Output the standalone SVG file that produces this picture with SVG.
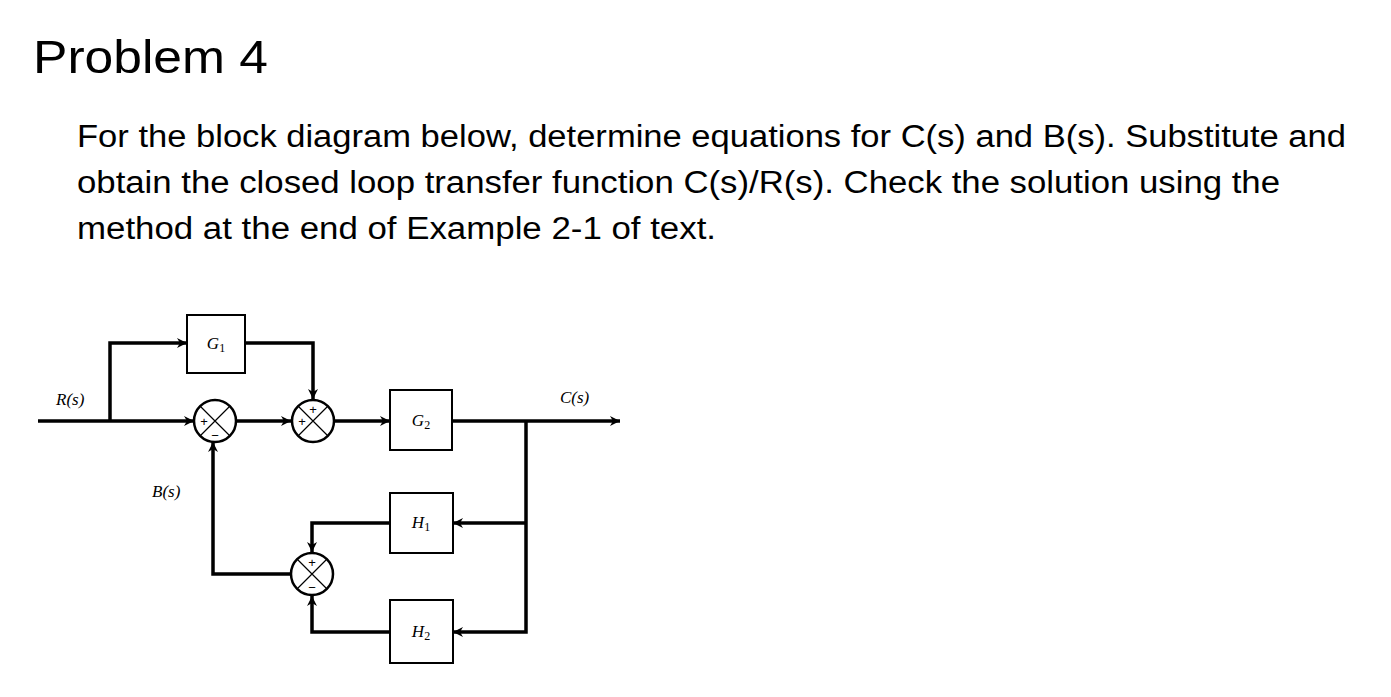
<svg xmlns="http://www.w3.org/2000/svg" width="1391" height="697" viewBox="0 0 1391 697">
<defs>
<marker id="ar" viewBox="0 0 10 10" refX="10" refY="5" markerWidth="20" markerHeight="10" markerUnits="userSpaceOnUse" orient="auto"><path d="M0,0 L10,5 L0,10 L3,5 z" fill="#000"/></marker>
</defs>
<style>
.t{font-family:"Liberation Sans",Arial,sans-serif;fill:#000}
.b{fill:#fff;stroke:#000;stroke-width:2}
.w{fill:none;stroke:#000;stroke-width:3.5}
.s{fill:#fff;stroke:#000;stroke-width:2.5}
.x{stroke:#000;stroke-width:1.2}
.m{font-family:"Liberation Serif",serif;font-style:italic;font-size:17px}
.p{font-family:"Liberation Sans",sans-serif;font-size:13px}
</style>
<rect width="1391" height="697" fill="#fff"/>
<text class="t" x="33" y="73" font-size="46" textLength="235" lengthAdjust="spacingAndGlyphs">Problem 4</text>
<text class="t" x="77" y="147" font-size="31" textLength="1269" lengthAdjust="spacingAndGlyphs">For the block diagram below, determine equations for C(s) and B(s).  Substitute and</text>
<text class="t" x="77" y="193" font-size="31" textLength="1203" lengthAdjust="spacingAndGlyphs">obtain the closed loop transfer function C(s)/R(s).  Check the solution using the</text>
<text class="t" x="77" y="239" font-size="31" textLength="639" lengthAdjust="spacingAndGlyphs">method at the end of Example 2-1 of text.</text>
<g id="connectors">
<path class="w" d="M38,421 H194" marker-end="url(#ar)"/>
<path class="w" d="M110,421 V343 H187" marker-end="url(#ar)"/>
<path class="w" d="M245,343 H313 V399" marker-end="url(#ar)"/>
<path class="w" d="M236,421 H291" marker-end="url(#ar)"/>
<path class="w" d="M335,421 H390" marker-end="url(#ar)"/>
<path class="w" d="M452,421 H620" marker-end="url(#ar)"/>
<path class="w" d="M526,421 V632 H453" marker-end="url(#ar)"/>
<path class="w" d="M526,523 H453" marker-end="url(#ar)"/>
<path class="w" d="M390,523 H312 V552" marker-end="url(#ar)"/>
<path class="w" d="M390,632 H312 V596" marker-end="url(#ar)"/>
<path class="w" d="M290,574 H213 V442" marker-end="url(#ar)"/>
</g>
<g id="G1"><rect class="b" x="187" y="315" width="58" height="58"/><text class="m" x="216" y="349" text-anchor="middle">G<tspan font-size="12" font-style="normal" dy="3">1</tspan></text></g>
<g id="G2"><rect class="b" x="390" y="390" width="62" height="60"/><text class="m" x="421" y="426" text-anchor="middle">G<tspan font-size="12" font-style="normal" dy="3">2</tspan></text></g>
<g id="H1"><rect class="b" x="390" y="493" width="63" height="60"/><text class="m" x="421" y="528" text-anchor="middle">H<tspan font-size="12" font-style="normal" dy="3">1</tspan></text></g>
<g id="H2"><rect class="b" x="390" y="600" width="63" height="63"/><text class="m" x="421" y="637" text-anchor="middle">H<tspan font-size="12" font-style="normal" dy="3">2</tspan></text></g>
<g id="S1"><circle class="s" cx="215" cy="421" r="21"/><path class="x" d="M200,406 L230,436 M230,406 L200,436"/><text class="p" x="204" y="426" text-anchor="middle">+</text><text class="p" x="215" y="440" text-anchor="middle">−</text></g>
<g id="S2"><circle class="s" cx="313" cy="421" r="21"/><path class="x" d="M298,406 L328,436 M328,406 L298,436"/><text class="p" x="302" y="426" text-anchor="middle">+</text><text class="p" x="313" y="414" text-anchor="middle">+</text></g>
<g id="S3"><circle class="s" cx="312" cy="574" r="21"/><path class="x" d="M297,559 L327,589 M327,559 L297,589"/><text class="p" x="312" y="567" text-anchor="middle">+</text><text class="p" x="312" y="592" text-anchor="middle">−</text></g>
<g id="labels">
<text class="m" x="56" y="405" font-size="15">R(s)</text>
<text class="m" x="560" y="403" font-size="15">C(s)</text>
<text class="m" x="152" y="497" font-size="18">B(s)</text>
</g>
</svg>
